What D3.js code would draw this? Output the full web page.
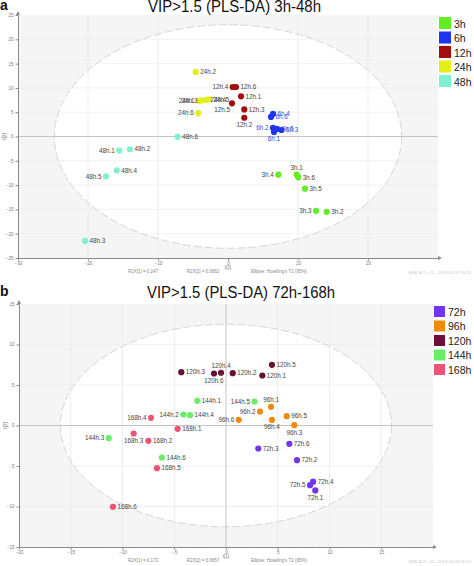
<!DOCTYPE html>
<html><head><meta charset="utf-8">
<script src="https://cdn.jsdelivr.net/npm/d3@7"></script>
<style>body{margin:0;background:#fff}svg{display:block;font-family:"Liberation Sans",Arial,sans-serif}</style>
</head><body><svg id="c" width="474" height="566"></svg>
<script>
// ---------- Panel a data ----------
const groupsA = ["3h","6h","12h","24h","48h"];
const namesA = ["3h.1","3h.2","3h.3","3h.4","3h.5","3h.6",
  "6h.1","6h.2","6h.3","6h.4","6h.5","6h.6",
  "12h.1","12h.2","12h.3","12h.4","12h.5","12h.6",
  "24h.1","24h.2","24h.3","24h.4","24h.5","24h.6",
  "48h.1","48h.2","48h.3","48h.4","48h.5","48h.6"];
const t1A = [9.81,14.1,12.57,7.19,11.0,10.04,
  6.57,6.43,7.64,6.43,7.0,6.14,
  1.86,2.33,2.33,0.67,0.57,1.14,
  -4.14,-4.61,-3.71,-3.14,-2.71,-4.24,
  -15.53,-14.0,-20.43,-15.9,-17.43,-7.19];
const t2A = [-7.85,-15.5,-15.29,-7.85,-10.74,-8.41,
  0.93,1.76,1.34,4.65,1.55,4.03,
  8.26,3.86,5.58,10.19,6.82,10.19,
  7.33,13.29,7.44,7.54,7.64,4.81,
  -2.89,-2.62,-21.49,-6.96,-8.2,-0.06];
const sideA = ["t","r","l","l","r","r",
  "b","l","r","r","r","r",
  "r","b","r","l","bl","r",
  "l","r","l","r","r","l",
  "l","r","r","r","l","r"];
const xTicksA = [-30,-20,-10,0,10,20];
const yTicksA = [-25,-20,-15,-10,-5,0,5,10,15,20,25];
const ellipseA = [24.8, 23.0];
const notesA = ["R2X[1] = 0.247","R2X[2] = 0.0662","Ellipse: Hotelling's T2 (95%)"];

// ---------- Panel b data ----------
const groupsB = ["72h","96h","120h","144h","168h"];
const namesB = ["72h.1","72h.2","72h.3","72h.4","72h.5","72h.6",
  "96h.1","96h.2","96h.3","96h.4","96h.5","96h.6",
  "120h.1","120h.2","120h.3","120h.4","120h.5","120h.6",
  "144h.1","144h.2","144h.3","144h.4","144h.5","144h.6",
  "168h.1","168h.2","168h.3","168h.4","168h.5","168h.6"];
const t1B = [8.63,6.86,3.12,8.42,8.12,6.12,
  4.35,3.29,6.60,4.44,5.87,1.23,
  3.51,0.65,-4.32,-0.48,4.44,-1.16,
  -2.77,-4.12,-11.33,-3.48,2.75,-6.19,
  -4.67,-7.5,-8.92,-7.25,-6.67,-10.92];
const t2B = [-8.02,-4.28,-2.84,-6.94,-7.37,-2.26,
  2.30,1.72,0.04,0.70,1.15,0.70,
  6.17,6.46,6.58,6.51,7.49,6.42,
  3.05,1.36,-1.56,1.27,2.96,-3.95,
  -0.41,-1.89,-0.99,0.95,-5.27,-10.05];
const sideB = ["b","r","r","r","l","r",
  "t","l","b","b","r","l",
  "r","r","r","t","r","b",
  "r","l","l","r","l","r",
  "r","r","b","l","r","r"];
const xTicksB = [-20,-15,-10,-5,0,5,10,15];
const yTicksB = [-15,-10,-5,0,5,10,15];
const ellipseB = [16.0, 12.5];
const notesB = ["R2X[1] = 0.173","R2X[2] = 0.0657","Ellipse: Hotelling's T2 (95%)"];

const colorsA = ["#62ee22","#1f36ee","#a50d0d","#e4ee18","#7ef2d0"];
const colorsB = ["#7434ee","#ee8a0c","#6a1038","#6aee6a","#ee5478"];
const stamp = "SIMCA-P+ 12 - 2019-03-18 15:22";

const svg = d3.select("#c");
svg.append("rect").attr("width",474).attr("height",566).attr("fill","#fff");

function panel(o){
  const g = svg.append("g");
  const x = d3.scaleLinear().domain(o.xDom).range(o.xRange);
  const y = d3.scaleLinear().domain(o.yDom).range(o.yRange);
  const x0 = o.xRange[0], x1 = o.xRange[1], yT = o.yRange[1], yB = o.yRange[0];
  g.append("rect").attr("x",x0).attr("y",yT).attr("width",x1-x0).attr("height",yB-yT).attr("fill","#f5f5f5");
  g.append("ellipse").attr("cx",x(0)).attr("cy",y(0))
    .attr("rx",x(o.ell[0])-x(0)).attr("ry",y(0)-y(o.ell[1])).attr("fill","#fff");
  // grid
  g.selectAll(".gx").data(o.xTicks.filter(v=>v!==0 && v!==o.xDom[0])).join("line")
    .attr("x1",d=>x(d)).attr("x2",d=>x(d)).attr("y1",yT).attr("y2",yB)
    .attr("stroke","#e8e8e8").attr("stroke-width",0.8);
  g.selectAll(".gy").data(o.yTicks.filter(v=>v!==0 && v!==o.yDom[0] && v!==o.yDom[1])).join("line")
    .attr("x1",x0).attr("x2",x1).attr("y1",d=>y(d)).attr("y2",d=>y(d))
    .attr("stroke","#ededed").attr("stroke-width",0.8);
  // ellipse outline
  g.append("ellipse").attr("cx",x(0)).attr("cy",y(0))
    .attr("rx",x(o.ell[0])-x(0)).attr("ry",y(0)-y(o.ell[1])).attr("fill","none")
    .attr("stroke","#d6d6d6").attr("stroke-width",1).attr("stroke-dasharray","8,3");
  // zero lines
  g.append("line").attr("x1",x0).attr("x2",x1).attr("y1",y(0)).attr("y2",y(0))
    .attr("stroke","#c4c4c4").attr("stroke-width",1);
  if(o.vzero) g.append("line").attr("x1",x(0)).attr("x2",x(0)).attr("y1",yT).attr("y2",yB)
    .attr("stroke","#c4c4c4").attr("stroke-width",1);
  // axes
  const ax = g.append("g").attr("transform",`translate(0,${yB})`)
    .call(d3.axisBottom(x).tickValues(o.xTicks).tickSize(2.5).tickSizeOuter(0).tickPadding(1.5));
  const ay = g.append("g").attr("transform",`translate(${x0},0)`)
    .call(d3.axisLeft(y).tickValues(o.yTicks).tickSize(2.5).tickSizeOuter(0).tickPadding(2));
  [ax,ay].forEach(a=>{
    a.select(".domain").attr("stroke","#8a8a8a");
    a.selectAll(".tick line").attr("stroke","#8a8a8a");
    a.selectAll("text").attr("font-size",4.5).attr("fill","#777").attr("font-family","Liberation Sans, Arial");
  });
  // minor ticks
  const minX = d3.range(o.xDom[0], o.xDom[1]+0.001, o.minor);
  g.selectAll(".mx").data(minX).join("line").attr("x1",d=>x(d)).attr("x2",d=>x(d))
    .attr("y1",yB).attr("y2",yB+1.5).attr("stroke","#9a9a9a").attr("stroke-width",0.6);
  // arrows
  g.append("path").attr("d",`M${x1},${yB-2}L${x1+4},${yB}L${x1},${yB+2}Z`).attr("fill","#8a8a8a");
  g.append("path").attr("d",`M${x0-2},${yT}L${x0},${yT-4}L${x0+2},${yT}Z`).attr("fill","#8a8a8a");
  // axis titles
  g.append("text").attr("x",x(0)).attr("y",yB+11).attr("text-anchor","middle")
    .attr("font-size",4.5).attr("fill","#777").text("t[1]");
  g.append("text").attr("transform",`translate(${x0-12},${y(0)}) rotate(-90)`).attr("text-anchor","middle")
    .attr("font-size",4.5).attr("fill","#777").text("t[2]");
  // notes
  const nx = [143, 203, 279];
  o.notes.forEach((t,i)=>g.append("text").attr("x",nx[i]).attr("y",yB+o.noteDy).attr("text-anchor","middle")
    .attr("font-size",4.5).attr("fill","#888").text(t));
  g.append("text").attr("x",471).attr("y",yB+o.noteDy+1).attr("text-anchor","end")
    .attr("font-size",4.2).attr("fill","#c8c8c8").text(stamp);
  // points
  const color = d3.scaleOrdinal().domain(o.groups).range(o.colors);
  const pts = o.names.map((n,i)=>({n, g:n.split(".")[0], t1:o.t1[i], t2:o.t2[i], s:o.side[i]}));
  g.selectAll(".pt").data(pts).join("circle")
    .attr("cx",d=>x(d.t1)).attr("cy",d=>y(d.t2)).attr("r",3.1).attr("fill",d=>color(d.g));
  const off = {r:[4.5,2.2,"start"], l:[-4.5,2.2,"end"], t:[0,-4.5,"middle"], b:[0,9.5,"middle"], bl:[-2,9,"end"]};
  g.selectAll(".lb").data(pts).join("text")
    .attr("x",d=>x(d.t1)+off[d.s][0]).attr("y",d=>y(d.t2)+off[d.s][1])
    .attr("text-anchor",d=>off[d.s][2]).attr("font-size",6.3)
    .attr("fill",d=>d.g===o.blueGroup ? "#3a48e0" : "#444").text(d=>d.n);
  // legend
  const lg = g.append("g");
  o.groups.forEach((k,i)=>{
    lg.append("rect").attr("x",o.legX).attr("y",o.legY+i*14.5).attr("width",o.legS).attr("height",o.legS).attr("fill",o.colors[i]);
    lg.append("text").attr("x",o.legX+o.legS+3).attr("y",o.legY+i*14.5+o.legS-1.5)
      .attr("font-size",10.5).attr("fill","#222").text(k);
  });
  // title
  g.append("text").attr("x",o.titleX).attr("y",o.titleY).attr("font-size",16)
    .attr("textLength",o.titleW).attr("lengthAdjust","spacingAndGlyphs").attr("fill","#111").text(o.title);
  g.append("text").attr("x",0).attr("y",o.letterY).attr("font-size",14).attr("font-weight","bold").attr("fill","#111").text(o.letter);
}

panel({xDom:[-30,30], xRange:[18,438], yDom:[-25,25], yRange:[258,15], ell:ellipseA,
  xTicks:xTicksA, yTicks:yTicksA, minor:2, vzero:false,
  groups:groupsA, colors:colorsA, names:namesA, t1:t1A, t2:t2A, side:sideA, blueGroup:"6h",
  notes:notesA, noteDy:15, legX:439, legY:17, legS:12,
  title:"VIP>1.5 (PLS-DA) 3h-48h", titleX:148, titleY:12, titleW:173, letter:"a", letterY:10});

panel({xDom:[-20,20], xRange:[19,433], yDom:[-15,15], yRange:[547,304], ell:ellipseB,
  xTicks:xTicksB, yTicks:yTicksB, minor:1, vzero:true,
  groups:groupsB, colors:colorsB, names:namesB, t1:t1B, t2:t2B, side:sideB, blueGroup:null,
  notes:notesB, noteDy:15, legX:434, legY:306, legS:11,
  title:"VIP>1.5 (PLS-DA) 72h-168h", titleX:147, titleY:298, titleW:188, letter:"b", letterY:296});
</script></body></html>
